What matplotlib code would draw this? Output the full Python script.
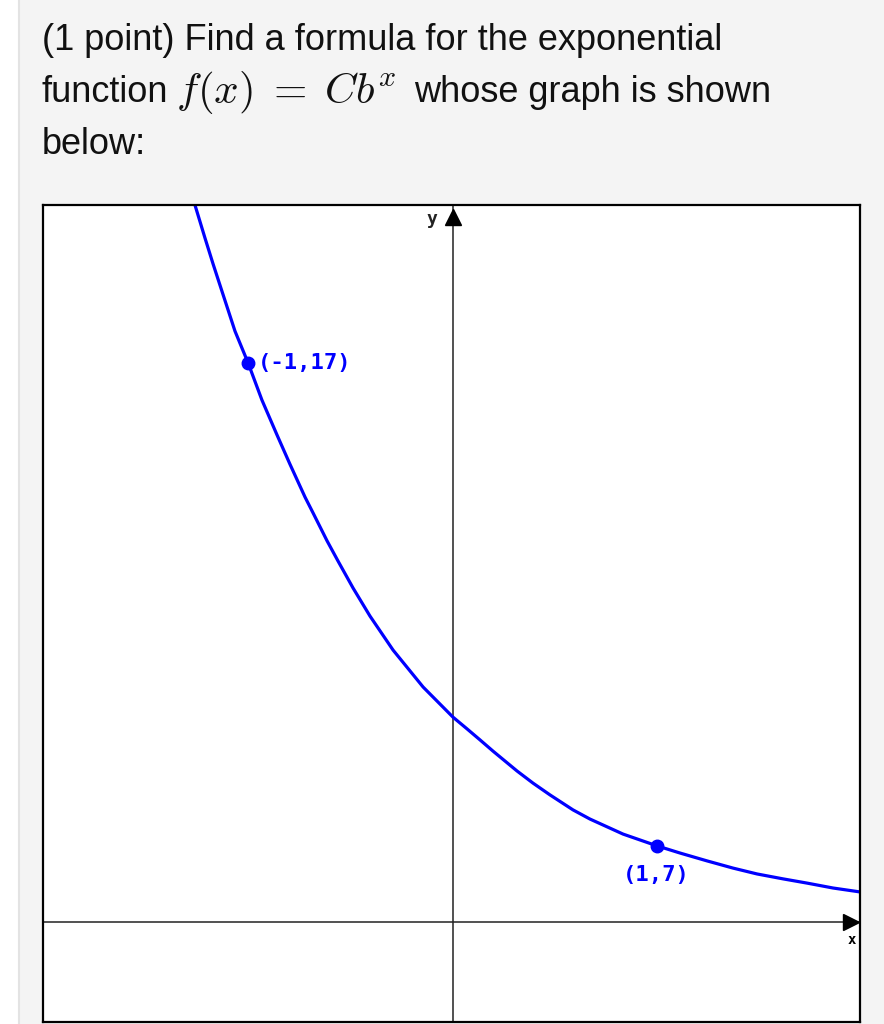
import matplotlib
matplotlib.use("Agg")
import matplotlib.pyplot as plt
from matplotlib.patches import Rectangle
from matplotlib.lines import Line2D

plt.rcParams['font.family'] = ['Liberation Sans', 'DejaVu Sans']
plt.rcParams['mathtext.fontset'] = 'cm'

# question text
line1 = "(1 point) Find a formula for the exponential"
line2_parts = ["function", r"$f(x)\;=\;Cb^x$", "whose graph is shown"]
line3 = "below:"

curve_x = [-1.261, -1.212, -1.172, -1.123, -1.065, -1.001, -0.933, -0.859, -0.796,
           -0.722, -0.683, -0.614, -0.561, -0.487, -0.404, -0.291, -0.144, 0.002,
           0.071, 0.135, 0.198, 0.316, 0.394, 0.477, 0.590, 0.673, 0.835, 1.001,
           1.114, 1.246, 1.373, 1.491, 1.618, 1.736, 1.863, 1.995]
curve_y = [21.94, 20.93, 20.13, 19.19, 18.08, 17.11, 15.97, 14.90, 14.01,
           13.00, 12.52, 11.66, 11.05, 10.22, 9.36, 8.32, 7.19, 6.27,
           5.91, 5.57, 5.23, 4.62, 4.25, 3.89, 3.43, 3.15, 2.69, 2.33,
           2.11, 1.87, 1.65, 1.47, 1.32, 1.19, 1.04, 0.92]

# marked points and their labels
pt_x = [-1, 1]
pt_y = [17.11, 2.33]
pt_labels = ["(-1,17)", "(1,7)"]

xmin, xmax = -2.005, 1.995
ymin, ymax = -3.06, 21.94

W, H = 884, 1024
fig = plt.figure(figsize=(W/100, H/100), dpi=100)
fig.patch.set_facecolor('#f4f4f4')
# white strip on the left + thin border
fig.patches.append(Rectangle((0, 0), 18/W, 1, transform=fig.transFigure,
                             facecolor='white', edgecolor='none', zorder=0))
fig.add_artist(Line2D([19/W, 19/W], [0, 1], transform=fig.transFigure,
                      color='#e3e3e3', lw=1.5))

fig.text(42/W, 1 - 41/H, line1, fontsize=26, color='#111111', va='center', ha='left')
fig.text(42/W, 1 - 93/H, line2_parts[0], fontsize=26, color='#111111', va='center', ha='left')
fig.text(176/W, 1 - 92/H, line2_parts[1], fontsize=31, color='#111111', va='center', ha='left')
fig.text(414/W, 1 - 93/H, line2_parts[2], fontsize=26, color='#111111', va='center', ha='left')
fig.text(42/W, 1 - 145/H, line3, fontsize=26, color='#111111', va='center', ha='left')

ax = fig.add_axes([43/W, 2/H, 817/W, 817/H])
ax.set_facecolor('white')
ax.set_xlim(xmin, xmax)
ax.set_ylim(ymin, ymax)
ax.set_xticks([])
ax.set_yticks([])
for s in ax.spines.values():
    s.set_linewidth(1.6)
    s.set_color('black')

# axes lines with arrow heads
ax.axvline(0, color='#222222', lw=1.1)
ax.axhline(0, color='#222222', lw=1.1)
ax.plot(0, ymax - 0.37, marker='^', color='black', markersize=12, clip_on=False)
ax.plot(xmax - 0.045, 0, marker='>', color='black', markersize=11, clip_on=False)
ax.text(-0.10, ymax - 0.15, 'y', fontsize=13, fontweight='bold',
        family='DejaVu Sans Mono', ha='center', va='top', color='#222222')
ax.text(xmax - 0.04, -0.35, 'x', fontsize=10, fontweight='bold',
        family='DejaVu Sans Mono', ha='center', va='top')

ax.plot(curve_x, curve_y, color='#0000ff', lw=2.3, solid_capstyle='butt',
        solid_joinstyle='round')
ax.plot(pt_x, pt_y, 'o', color='#0000ff', markersize=9)

ax.annotate(pt_labels[0], (pt_x[0], pt_y[0]), xytext=(7, 0), textcoords='offset points',
            ha='left', va='center', fontsize=16, fontweight='bold',
            family='DejaVu Sans Mono', color='#0000ff')
ax.annotate(pt_labels[1], (pt_x[1], pt_y[1]), xytext=(0, -21), textcoords='offset points',
            ha='center', va='center', fontsize=16, fontweight='bold',
            family='DejaVu Sans Mono', color='#0000ff')

fig.savefig('out.png', dpi=100, facecolor=fig.get_facecolor())
